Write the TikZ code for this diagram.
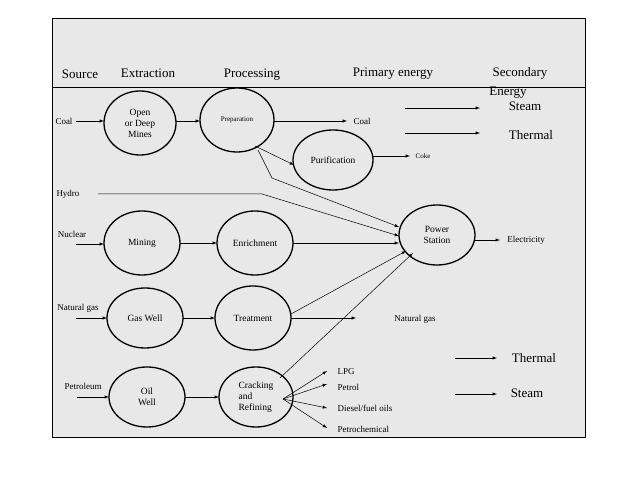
\documentclass[tikz,border=0pt]{standalone}
\usepackage{fontspec}
\setmainfont{Liberation Serif}
\begin{document}
\begin{tikzpicture}[x=1pt,y=-1pt,
  el/.style={draw,line width=1.3pt,ellipse,inner sep=0pt},
  arr/.style={-latex,line width=0.5pt},
  ln/.style={line width=0.5pt},
  hd/.style={font=\fontsize{13}{13}\selectfont},
  lb/.style={font=\fontsize{9}{10}\selectfont,align=left},
  nt/.style={font=\fontsize{9.5}{11}\selectfont,align=center}]
\useasboundingbox (0,0) rectangle (638,478);
\fill[white] (0,0) rectangle (638,478);
\draw[fill=gray!18,line width=0.8pt] (52,18) rectangle (585,437);
\draw[line width=0.8pt] (52,87) -- (585,87);
\usetikzlibrary{shapes.geometric}
\node[hd] (hs) at (80,74) {Source};
\node[hd] (he) at (148,73) {Extraction};
\node[hd] (hp) at (252,75) {Processing};
\node[hd] (hpe) at (393,74) {Primary energy};
\node[hd] (hse) at (520,73) {Secondary};
\node[hd] (hen) at (508,93) {Energy};
\node[hd] (st1) at (525,106) {Steam};
\node[hd] (th1) at (531,135) {Thermal};
\coordinate (s1) at (405,108); \coordinate (s2) at (480,108);
\coordinate (t1) at (405,133); \coordinate (t2) at (480,133);
\draw[arr] (s1) -- (s2); \draw[arr] (t1) -- (t2);

% ellipses
\draw[line width=1.3pt] (140,123) ellipse (36 and 32); \node[nt] (mines) at (140,123) {Open\\or Deep\\Mines};
\draw[line width=1.3pt] (237,120) ellipse (37 and 32); \node[nt,font=\fontsize{7}{8}\selectfont] (prep) at (237,120) {Preparation};
\draw[line width=1.3pt] (333,160) ellipse (40 and 30); \node[nt] (pur) at (333,160) {Purification};
\draw[line width=1.3pt] (437,235) ellipse (38 and 30); \node[nt] (pow) at (437,235) {Power\\Station};
\draw[line width=1.3pt] (142,243) ellipse (38 and 32); \node[nt] (min) at (142,243) {Mining};
\draw[line width=1.3pt] (255,243) ellipse (38 and 32); \node[nt] (enr) at (255,243) {Enrichment};
\draw[line width=1.3pt] (145,318) ellipse (38 and 30); \node[nt] (gw) at (145,318) {Gas Well};
\draw[line width=1.3pt] (253,318) ellipse (38 and 32); \node[nt] (tr) at (253,318) {Treatment};
\draw[line width=1.3pt] (147,397) ellipse (38 and 30); \node[nt] (ow) at (147,397) {Oil\\Well};
\draw[line width=1.3pt] (256,397) ellipse (37 and 30); \node[nt,align=left] (cr) at (256,397) {Cracking\\and\\Refining};

% coal row
\node[lb] (coal) at (64,121) {Coal};
\coordinate (c1) at (76,121); \coordinate (c2) at (104,121);
\draw[arr] (c1) -- (c2);
\coordinate (m1) at (176,121); \coordinate (m2) at (200,121);
\draw[arr] (m1) -- (m2);
\coordinate (p1) at (274,121); \coordinate (p2) at (347,121);
\draw[arr] (p1) -- (p2);
\node[lb] (coalo) at (362,121) {Coal};
\coordinate (p3) at (255,146); \coordinate (p4) at (294,165);
\draw[arr] (p3) -- (p4);
\coordinate (pu1) at (373,156); \coordinate (pu2) at (410,156);
\draw[arr] (pu1) -- (pu2);
\node[lb,font=\fontsize{7}{8}\selectfont] (coke) at (423,156) {Coke};
\coordinate (p5) at (258,150); \coordinate (p6) at (272,178);
\coordinate (pw1) at (399,227);
\draw[arr] (p5) -- (p6) -- (pw1);

% hydro
\node[lb] (hy) at (68,194) {Hydro};
\coordinate (h1) at (98,194); \coordinate (h2) at (262,194); \coordinate (pw2) at (399,236);
\draw[arr] (h1) -- (h2) -- (pw2);

% nuclear
\node[lb] (nu) at (72,234) {Nuclear};
\coordinate (n1) at (76,244); \coordinate (n2) at (104,244);
\draw[arr] (n1) -- (n2);
\coordinate (n3) at (180,243); \coordinate (n4) at (217,243);
\draw[arr] (n3) -- (n4);
\coordinate (n5) at (293,243); \coordinate (pw3) at (399,243);
\draw[arr] (n5) -- (pw3);
\coordinate (e1) at (475,240); \coordinate (e2) at (500,240);
\draw[arr] (e1) -- (e2);
\node[lb] (elec) at (526,240) {Electricity};

% gas
\node[lb] (ng) at (78,308) {Natural gas};
\coordinate (g1) at (76,318); \coordinate (g2) at (107,318);
\draw[arr] (g1) -- (g2);
\coordinate (g3) at (183,318); \coordinate (g4) at (215,318);
\draw[arr] (g3) -- (g4);
\coordinate (g5) at (291,314); \coordinate (pw4) at (406,251);
\draw[arr] (g5) -- (pw4);
\coordinate (g6) at (291,318); \coordinate (g7) at (356,318);
\draw[arr] (g6) -- (g7);
\node[lb] (ngo) at (415,319) {Natural gas};

\node[hd] (th2) at (534,358) {Thermal};
\coordinate (t3) at (455,358); \coordinate (t4) at (497,358);
\draw[arr] (t3) -- (t4);
\node[hd] (st2) at (527,393) {Steam};
\coordinate (s3) at (455,394); \coordinate (s4) at (497,394);
\draw[arr] (s3) -- (s4);

% petroleum
\node[lb] (pet) at (83,386) {Petroleum};
\coordinate (o1) at (77,397); \coordinate (o2) at (109,397);
\draw[arr] (o1) -- (o2);
\coordinate (o3) at (185,397); \coordinate (o4) at (219,397);
\draw[arr] (o3) -- (o4);
\coordinate (o5) at (280,378); \coordinate (pw5) at (413,253);
\draw[arr] (o5) -- (pw5);
\coordinate (f0) at (283,399);
\coordinate (f1) at (327,371); \coordinate (f2) at (327,384);
\coordinate (f3) at (327,408); \coordinate (f4) at (327,428);
\draw[arr] (f0) -- (f1); \draw[arr] (f0) -- (f2);
\draw[arr] (f0) -- (f3); \draw[arr] (f0) -- (f4);
\node[lb,anchor=west] (lpg) at (334,372) {LPG};
\node[lb,anchor=west] (ptl) at (334,387) {Petrol};
\node[lb,anchor=west] (dsl) at (334,408) {Diesel/fuel oils};
\node[lb,anchor=west] (pch) at (334,429) {Petrochemical};
\end{tikzpicture}
\end{document}
